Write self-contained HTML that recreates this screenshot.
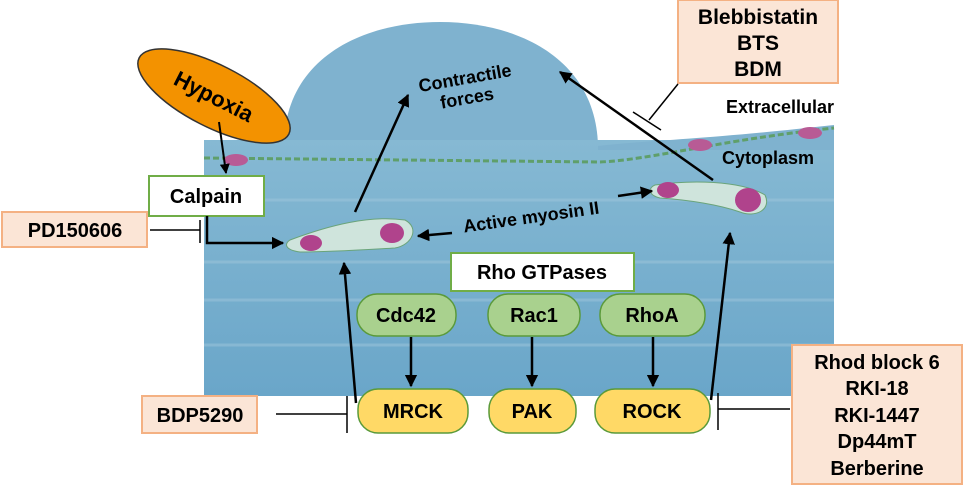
<!DOCTYPE html>
<html><head><meta charset="utf-8"><style>
body{margin:0;background:#fff}
svg{display:block;font-family:"Liberation Sans",Arial,sans-serif;font-weight:bold}
</style></head><body>
<svg width="968" height="486" viewBox="0 0 968 486" xmlns="http://www.w3.org/2000/svg">
<defs>
<marker id="a" viewBox="0 0 10 10" refX="9" refY="5" markerWidth="5" markerHeight="5" orient="auto"><path d="M0,0L10,5L0,10z" fill="#000"/></marker>
<linearGradient id="bg" x1="0" y1="0" x2="0" y2="1"><stop offset="0" stop-color="#86b9d3"/><stop offset="1" stop-color="#6aa6c9"/></linearGradient>
</defs>
<path d="M284,146 C284,60 360,22 440,22 C520,22 596,60 598,146 Z" fill="#7fb2cf"/>
<rect x="204" y="140" width="630" height="256" fill="url(#bg)"/>
<path d="M598,146 C650,140 700,140 834,125 L834,150 L598,150Z" fill="#7fb2cf"/>
<g stroke="#9fc6db" stroke-width="3" opacity="0.5">
<line x1="204" y1="200" x2="834" y2="200"/><line x1="204" y1="262" x2="834" y2="262"/><line x1="204" y1="300" x2="834" y2="300"/><line x1="204" y1="345" x2="834" y2="345"/>
</g>
<path d="M204,158 L600,162 C650,160 720,140 834,128" stroke="#5f9f6a" stroke-width="3" fill="none" stroke-dasharray="6 3"/>
<ellipse cx="236" cy="160" rx="12" ry="6" fill="#b85b95"/>
<ellipse cx="700" cy="145" rx="12" ry="6" fill="#b85b95"/>
<ellipse cx="810" cy="133" rx="12" ry="6" fill="#b85b95"/>
<path d="M290,240 C330,225 370,215 405,220 C420,228 412,245 395,248 C360,250 330,252 300,252 C285,250 284,244 290,240Z" fill="#cfe4dc" stroke="#6aa47a"/>
<ellipse cx="311" cy="243" rx="11" ry="8" fill="#b0438c"/>
<ellipse cx="392" cy="233" rx="12" ry="10" fill="#b0438c"/>
<path d="M655,185 C690,180 740,180 765,195 C772,210 755,218 740,212 C720,205 690,200 660,198 C648,195 648,188 655,185Z" fill="#cfe4dc" stroke="#6aa47a"/>
<ellipse cx="668" cy="190" rx="11" ry="8" fill="#b0438c"/>
<ellipse cx="748" cy="200" rx="13" ry="12" fill="#b0438c"/>
<ellipse cx="214" cy="96" rx="84" ry="31" transform="rotate(27 214 96)" fill="#f39200" stroke="#333" stroke-width="1.5"/>
<text x="214" y="104" font-size="22" text-anchor="middle" transform="rotate(27 214 96)">Hypoxia</text>
<line x1="219" y1="122" x2="226" y2="173" stroke="#000" stroke-width="2" marker-end="url(#a)"/>
<rect x="149" y="176" width="115" height="40" fill="#fff" stroke="#70ad47" stroke-width="2"/>
<text x="206" y="203" font-size="20" text-anchor="middle">Calpain</text>
<rect x="2" y="212" width="145" height="35" fill="#fbe5d6" stroke="#f4b183" stroke-width="2"/>
<text x="75" y="237" font-size="20" text-anchor="middle">PD150606</text>
<line x1="150" y1="230" x2="200" y2="230" stroke="#000" stroke-width="1.5"/>
<line x1="200" y1="220" x2="200" y2="243" stroke="#000" stroke-width="1.5"/>
<polyline points="207,216 207,243 283,243" fill="none" stroke="#000" stroke-width="2.5" marker-end="url(#a)"/>
<text x="466" y="84" font-size="18" text-anchor="middle" transform="rotate(-10 466 84)">Contractile</text>
<text x="468" y="104" font-size="18" text-anchor="middle" transform="rotate(-10 468 104)">forces</text>
<line x1="355" y1="212" x2="408" y2="95" stroke="#000" stroke-width="2.5" marker-end="url(#a)"/>
<line x1="713" y1="180" x2="560" y2="72" stroke="#000" stroke-width="2.5" marker-end="url(#a)"/>
<rect x="678" y="0" width="160" height="83" fill="#fbe5d6" stroke="#f4b183" stroke-width="2"/>
<text x="758" y="24" font-size="21" text-anchor="middle">Blebbistatin</text>
<text x="758" y="50" font-size="21" text-anchor="middle">BTS</text>
<text x="758" y="76" font-size="21" text-anchor="middle">BDM</text>
<line x1="678" y1="84" x2="649" y2="120" stroke="#000" stroke-width="1.5"/>
<line x1="633" y1="112" x2="661" y2="130" stroke="#000" stroke-width="1.5"/>
<text x="780" y="113" font-size="18" text-anchor="middle">Extracellular</text>
<text x="768" y="164" font-size="18" text-anchor="middle">Cytoplasm</text>
<text x="532" y="223" font-size="18" text-anchor="middle" transform="rotate(-8 532 223)">Active myosin II</text>
<line x1="452" y1="233" x2="418" y2="236" stroke="#000" stroke-width="2.5" marker-end="url(#a)"/>
<line x1="618" y1="196" x2="652" y2="191" stroke="#000" stroke-width="2.5" marker-end="url(#a)"/>
<rect x="451" y="253" width="183" height="38" fill="#fff" stroke="#70ad47" stroke-width="2"/>
<text x="542" y="279" font-size="20" text-anchor="middle">Rho GTPases</text>
<g stroke="#5a9a3a" stroke-width="1.5" fill="#a9d18e">
<rect x="357" y="294" width="99" height="42" rx="20"/>
<rect x="488" y="294" width="92" height="42" rx="20"/>
<rect x="600" y="294" width="105" height="42" rx="20"/>
</g>
<text x="406" y="322" font-size="20" text-anchor="middle">Cdc42</text>
<text x="534" y="322" font-size="20" text-anchor="middle">Rac1</text>
<text x="652" y="322" font-size="20" text-anchor="middle">RhoA</text>
<g stroke="#5a9a3a" stroke-width="1.5" fill="#ffd966">
<rect x="358" y="389" width="110" height="44" rx="20"/>
<rect x="489" y="389" width="87" height="44" rx="20"/>
<rect x="595" y="389" width="115" height="44" rx="20"/>
</g>
<text x="413" y="418" font-size="20" text-anchor="middle">MRCK</text>
<text x="532" y="418" font-size="20" text-anchor="middle">PAK</text>
<text x="652" y="418" font-size="20" text-anchor="middle">ROCK</text>
<g stroke="#000" stroke-width="2.5">
<line x1="411" y1="337" x2="411" y2="386" marker-end="url(#a)"/>
<line x1="532" y1="337" x2="532" y2="386" marker-end="url(#a)"/>
<line x1="653" y1="337" x2="653" y2="386" marker-end="url(#a)"/>
<line x1="356" y1="403" x2="344" y2="263" marker-end="url(#a)"/>
<line x1="711" y1="400" x2="730" y2="233" marker-end="url(#a)"/>
</g>
<rect x="142" y="396" width="115" height="37" fill="#fbe5d6" stroke="#f4b183" stroke-width="2"/>
<text x="200" y="422" font-size="20" text-anchor="middle">BDP5290</text>
<line x1="276" y1="414" x2="347" y2="414" stroke="#000" stroke-width="1.5"/>
<line x1="347" y1="396" x2="347" y2="433" stroke="#000" stroke-width="1.5"/>
<rect x="792" y="345" width="170" height="139" fill="#fbe5d6" stroke="#f4b183" stroke-width="2"/>
<text x="877" y="369" font-size="20" text-anchor="middle">Rhod block 6</text>
<text x="877" y="395" font-size="20" text-anchor="middle">RKI-18</text>
<text x="877" y="422" font-size="20" text-anchor="middle">RKI-1447</text>
<text x="877" y="448" font-size="20" text-anchor="middle">Dp44mT</text>
<text x="877" y="475" font-size="20" text-anchor="middle">Berberine</text>
<line x1="718" y1="409" x2="790" y2="409" stroke="#000" stroke-width="1.5"/>
<line x1="718" y1="393" x2="718" y2="430" stroke="#000" stroke-width="1.5"/>
</svg>
</body></html>
